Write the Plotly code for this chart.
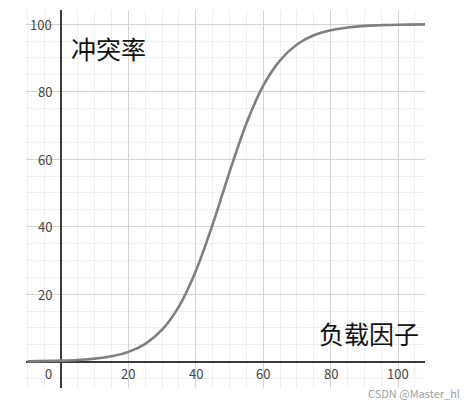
import plotly.graph_objects as go

# load factor vs collision rate
load_factor = [-10, 0, 5, 10, 15, 20, 25, 30, 35, 40, 45, 50, 55, 60, 65, 70, 75, 80, 85, 90, 95, 100, 108]
collision_rate = [0.1, 0.3, 0.5, 0.9, 1.6, 2.9, 5.3, 9.5, 16.4, 26.9, 40.7, 56.2, 70.6, 81.8, 89.3, 94.0, 96.7, 98.2, 99.0, 99.5, 99.7, 99.85, 99.95]

x_ticks = [0, 20, 40, 60, 80, 100]
y_ticks = [20, 40, 60, 80, 100]

fig = go.Figure()
fig.add_trace(go.Scatter(x=load_factor, y=collision_rate, mode='lines',
                         line=dict(color='#7f7f7f', width=2.6, shape='spline', smoothing=1.0),
                         hoverinfo='skip', showlegend=False))

axis_style = dict(dtick=20, tick0=0, showgrid=True, gridcolor='#d4d4d4', gridwidth=1,
                  minor=dict(dtick=5, tick0=0, showgrid=True, gridcolor='#efefef', gridwidth=1),
                  zeroline=True, zerolinecolor='#3a3a3a', zerolinewidth=1.6,
                  showticklabels=False, ticks='', showline=False, fixedrange=True)

# the page body has an 8px margin, so the figure is kept 8px smaller
fig.update_layout(
    width=466, height=395,
    margin=dict(l=18, r=49, t=2, b=15),
    paper_bgcolor='white', plot_bgcolor='white',
    xaxis=dict(range=[-10.4, 108], **axis_style),
    yaxis=dict(range=[-7.8, 104.2], **axis_style),
    font=dict(family='Noto Sans CJK SC, Noto Sans, sans-serif'),
)

# tick labels drawn inside the plot, next to the axes
for v in x_ticks:
    fig.add_annotation(x=v if v else -3.6, y=-3.6, text=str(v), showarrow=False,
                       font=dict(size=13, color='#444'), xanchor='center', yanchor='middle')
for v in y_ticks:
    fig.add_annotation(x=-2.2, y=v, text=str(v), showarrow=False,
                       font=dict(size=13, color='#444'), xanchor='right', yanchor='middle')

fig.add_annotation(x=2.5, y=93, text='冲突率', showarrow=False, xanchor='left', yanchor='middle',
                   font=dict(size=25, color='#111'))
fig.add_annotation(x=106.8, y=8.5, text='负载因子', showarrow=False, xanchor='right', yanchor='middle',
                   font=dict(size=25, color='#111'))
fig.add_annotation(xref='paper', yref='paper', x=1.093, y=-0.012, text='CSDN @Master_hl', showarrow=False,
                   xanchor='right', yanchor='middle', font=dict(size=11, color='#a0a0a0'))

fig.write_html('out.html')
